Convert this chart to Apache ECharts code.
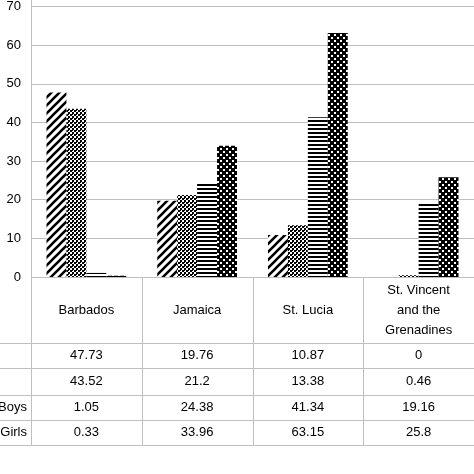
<!DOCTYPE html>
<html><head><meta charset="utf-8">
<script src="https://cdn.jsdelivr.net/npm/echarts@6/dist/echarts.min.js"></script>
<style>html,body{margin:0;padding:0;background:#fff}#c{width:474px;height:474px}</style>
</head><body><div id="c"></div>
<script>
const categories = ["Barbados", "Jamaica", "St. Lucia", "St. Vincent\nand the\nGrenadines"];
const seriesNames = ["", "", "Boys", "Girls"];
const values = [
  [47.73, 19.76, 10.87, 0],
  [43.52, 21.2, 13.38, 0.46],
  [1.05, 24.38, 41.34, 19.16],
  [0.33, 33.96, 63.15, 25.8]
];
const valueLabels = [
  ["47.73", "19.76", "10.87", "0"],
  ["43.52", "21.2", "13.38", "0.46"],
  ["1.05", "24.38", "41.34", "19.16"],
  ["0.33", "33.96", "63.15", "25.8"]
];

function pattern(kind) {
  const c = document.createElement("canvas");
  const s = kind === "diag" ? 8 : kind === "dots" ? 6 : 4;
  c.width = s; c.height = s;
  const g = c.getContext("2d");
  g.fillStyle = "#fff"; g.fillRect(0, 0, s, s);
  g.fillStyle = "#000"; g.strokeStyle = "#000";
  if (kind === "diag") {
    g.lineWidth = 2.6;
    g.beginPath();
    g.moveTo(-2, s + 2); g.lineTo(s + 2, -2);
    g.moveTo(-2, 2); g.lineTo(2, -2);
    g.moveTo(s - 2, s + 2); g.lineTo(s + 2, s - 2);
    g.stroke();
  } else if (kind === "check") {
    g.fillRect(0, 0, 2, 2); g.fillRect(2, 2, 2, 2);
    g.fillRect(0, 2, 1, 1);
  } else if (kind === "horiz") {
    g.fillRect(0, 0, s, 2);
  } else {
    g.fillRect(0, 0, s, s);
    g.fillStyle = "#fff";
    g.fillRect(1, 1, 2, 2); g.fillRect(4, 4, 2, 2);
  }
  return { image: c, repeat: "repeat" };
}
const patterns = ["diag", "check", "horiz", "dots"].map(pattern);

const chart = echarts.init(document.getElementById("c"));
const L = 31, R = 474, Y0 = 277;
const colW = (R - L) / 4;
const rowY = [277, 343, 368, 395, 420, 445];
const font = '"Liberation Sans", "Noto Sans", sans-serif';
const lineStyle = { stroke: "#bfbfbf", lineWidth: 1 };
const graphics = [];
rowY.forEach(function (y, i) {
  graphics.push({ type: "line", shape: { x1: i === 0 ? L : 0, y1: y + 0.5, x2: R, y2: y + 0.5 }, style: lineStyle, silent: true });
});
for (let k = 0; k < 4; k++) {
  const x = Math.round(L + k * colW) + 0.5;
  graphics.push({ type: "line", shape: { x1: x, y1: k === 0 ? 0 : 277, x2: x, y2: 445 }, style: lineStyle, silent: true });
}
categories.forEach(function (c, k) {
  graphics.push({ type: "text", x: L + (k + 0.5) * colW, y: 310, style: { text: c, fill: "#000", font: "13px " + font, align: "center", verticalAlign: "middle", lineHeight: 20 } });
});
valueLabels.forEach(function (row, r) {
  const cy = (rowY[r + 1] + rowY[r + 2]) / 2;
  graphics.push({ type: "text", x: 27, y: cy, style: { text: seriesNames[r], fill: "#000", font: "13px " + font, align: "right", verticalAlign: "middle" } });
  row.forEach(function (v, k) {
    graphics.push({ type: "text", x: L + (k + 0.5) * colW, y: cy, style: { text: v, fill: "#000", font: "13px " + font, align: "center", verticalAlign: "middle" } });
  });
});

chart.setOption({
  animation: false,
  grid: { left: L, right: 0, top: 2, bottom: 474 - Y0 },
  xAxis: {
    type: "category", data: categories,
    axisLine: { show: false }, axisTick: { show: false }, axisLabel: { show: false }
  },
  yAxis: {
    type: "value", min: 0, max: 70, interval: 10,
    axisLine: { show: false }, axisTick: { show: false },
    axisLabel: { color: "#000", fontSize: 13, fontFamily: font, margin: 10 },
    splitLine: { lineStyle: { color: "#bfbfbf", width: 1 } }
  },
  series: values.map(function (d, i) {
    return {
      type: "bar", name: seriesNames[i] || ("s" + i), data: d,
      barGap: "0%", barCategoryGap: "28%",
      itemStyle: { color: patterns[i] }
    };
  }),
  graphic: graphics
});
</script></body></html>
